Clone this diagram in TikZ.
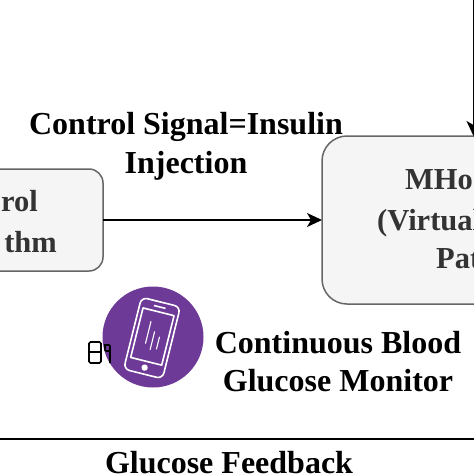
\documentclass[tikz,border=0pt]{standalone}
\usepackage{fontspec}
\setmainfont{Liberation Serif}
\usetikzlibrary{arrows.meta}
\definecolor{boxfill}{HTML}{F5F5F5}
\definecolor{boxline}{HTML}{666666}
\definecolor{purp}{HTML}{6E3A98}
\definecolor{inktext}{HTML}{333333}
\tikzset{
 blockbox/.style={draw=boxline,fill=boxfill,line width=1.5pt},
 lab/.style={font=\fontsize{32}{38}\selectfont\bfseries,text=black,align=center,inner sep=0pt},
 boxlab/.style={font=\fontsize{30.5}{38}\selectfont\bfseries,text=inktext,inner sep=0pt},
 flow/.style={draw=black,line width=1.3pt,-{Stealth[length=15pt,width=14pt,inset=4pt]}},
 phone/.style={draw=white,line width=1.6pt,line join=round}
}
\begin{document}
\begin{tikzpicture}[x=1pt,y=-1pt]
\useasboundingbox (0,0) rectangle (474,474);
\clip (0,0) rectangle (474,474);
\draw[blockbox,rounded corners=14pt] (-40,169) rectangle (103,271);
\coordinate (ctlr) at (103,220);
\draw[blockbox,rounded corners=25pt] (322,136) rectangle (520,304);
\coordinate (mhl) at (322,220);
\coordinate (mht) at (473.5,136);
\coordinate (topin) at (473.5,0);
\draw[flow] (ctlr) -- (mhl);
\draw[flow,line width=1.6pt] (topin) -- (mht);
\node[boxlab,anchor=base east] (t1) at (38,211) {rol};
\node[boxlab,anchor=base east] (t2) at (57,252) {thm};
\node[boxlab,anchor=base west] (t3) at (405,189) {MHo};
\node[boxlab,anchor=base west] (t4) at (377,230) {(Virtual};
\node[boxlab,anchor=base west] (t5) at (436,268) {Pat};
\node[lab,anchor=base] (l1) at (186,134) {Control Signal=Insulin};
\node[lab,anchor=base] (l2) at (186,173) {Injection};
\node[lab,anchor=base] (l3) at (338,353) {Continuous Blood};
\node[lab,anchor=base] (l4) at (338,391) {Glucose Monitor};
\node[lab,anchor=base] (l5) at (229,473) {Glucose Feedback};
\node[circle,fill=purp,minimum size=101pt,inner sep=0pt] (disc) at (153,337) {};
\begin{scope}[shift={(152,338)},rotate=-14]
\draw[phone,rounded corners=6pt] (-20,-37) rectangle (20,37);
\draw[phone] (-16,-27) rectangle (16,24);
\draw[phone] (-6,-32) -- (6,-32);
\fill[white] (0,30.5) circle (3.2pt);
\draw[white,line width=1.1pt] (-5,7) -- (-5,-16) (1,12) -- (1,-7) (7,10) -- (7,-3);
\end{scope}
\draw[black,line width=1.7pt,rounded corners=1.5pt] (89,342) rectangle (101,363) (89,352) -- (101,352);
\draw[black,line width=1.7pt,rounded corners=1pt] (104,345) -- (110,345) -- (110,363) (105,345) -- (105,351) -- (110,351);
\draw[black,line width=1.5pt] (0,439) -- (474,439);
\end{tikzpicture}
\end{document}
